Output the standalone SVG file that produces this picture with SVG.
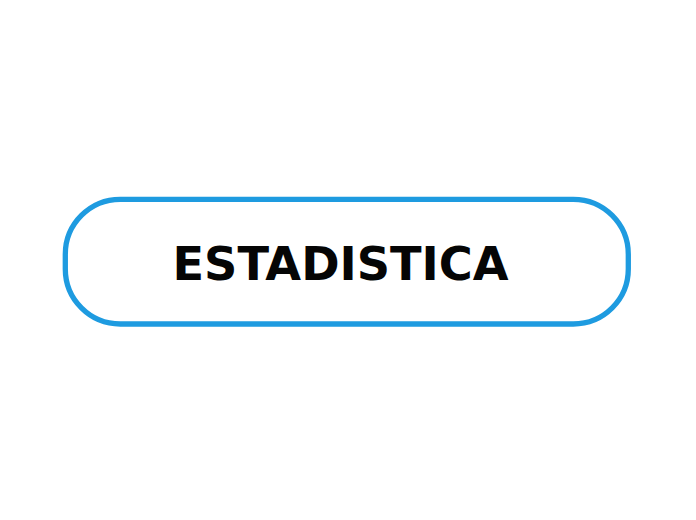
<svg xmlns="http://www.w3.org/2000/svg" width="696" height="520" viewBox="0 0 696 520">
<style>
.node-shape{fill:#ffffff;stroke:#1e9be0;stroke-width:5.3}
.node-label{font-family:"DejaVu Sans",Verdana,sans-serif;font-weight:bold;font-size:45.5px;fill:#050505}
</style>
<rect width="696" height="520" fill="#ffffff"/>
<g id="connectors"></g>
<g id="node-estadistica">
<rect class="node-shape" x="65.3" y="199.3" width="563" height="124.7" rx="55" ry="55"/>
<text class="node-label" x="172.5" y="280" textLength="336" lengthAdjust="spacingAndGlyphs">ESTADISTICA</text>
</g>
</svg>
